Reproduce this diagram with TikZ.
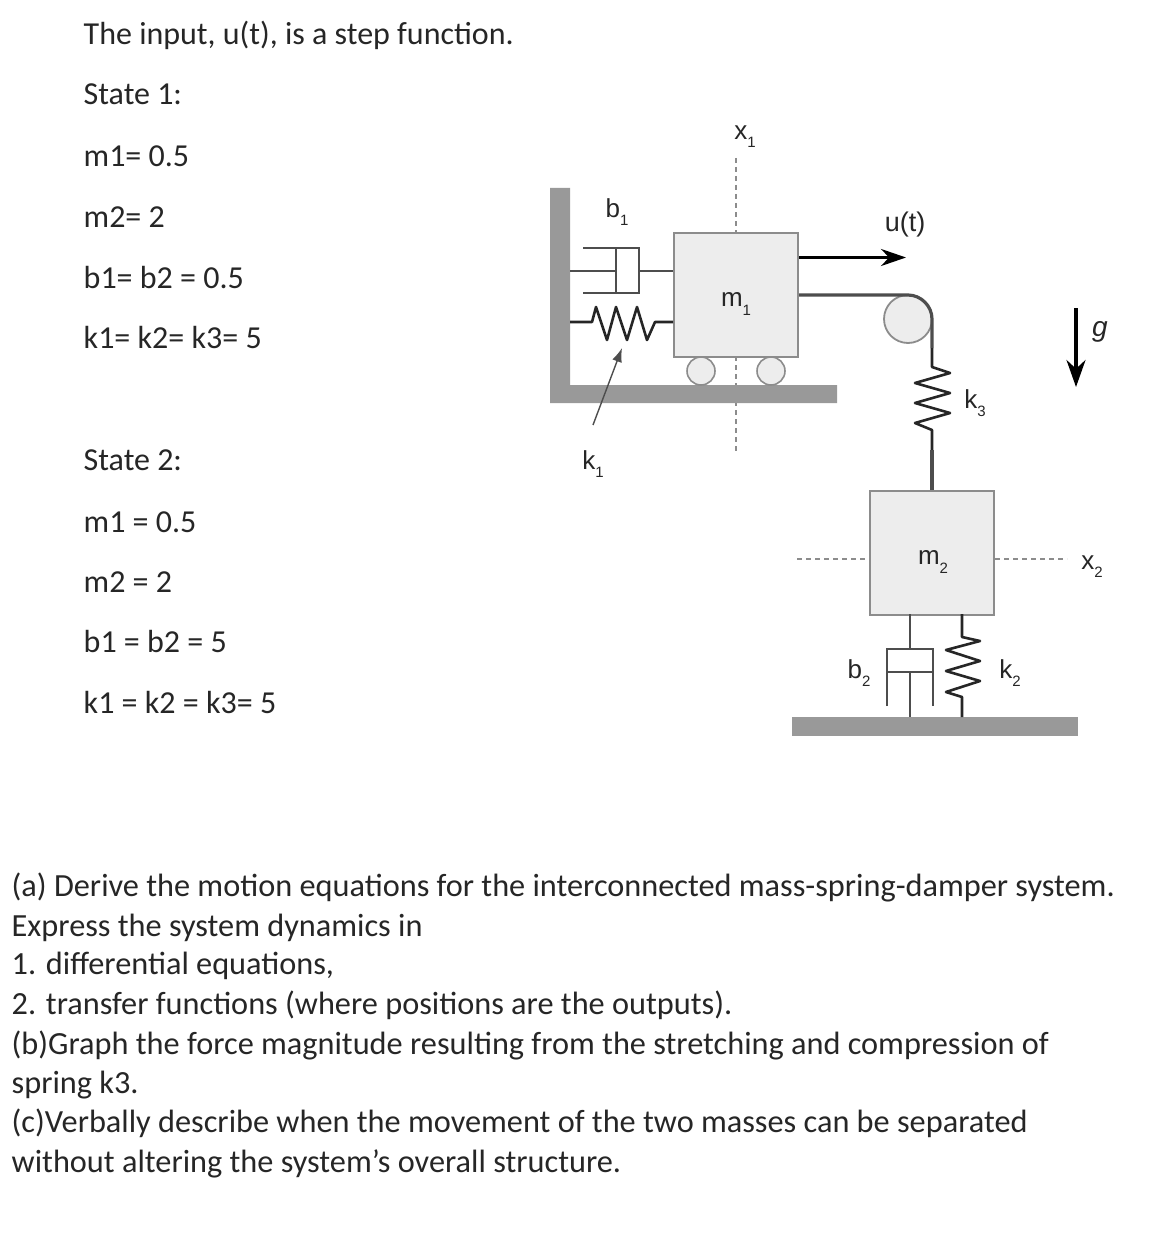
\documentclass[tikz,border=0pt]{standalone}
\usepackage{fontspec}
\setmainfont{Carlito}
\newfontfamily\labfont{Liberation Sans}
\usetikzlibrary{arrows.meta,calc}
\definecolor{ink}{HTML}{262626}
\definecolor{wallc}{HTML}{999999}
\definecolor{massc}{HTML}{EDEDED}
\definecolor{edgec}{HTML}{8C8C8C}
\definecolor{linec}{HTML}{4D4D4D}
\newcommand{\lbl}[2]{#1\raisebox{-0.6ex}{\fontsize{15}{15}\selectfont #2}}
\tikzset{
  body/.style={anchor=base west,inner sep=0pt,text=ink,font=\fontsize{32}{32}\selectfont},
  para/.style={anchor=base west,inner sep=0pt,text=ink,font=\fontsize{32.3}{32.3}\selectfont},
  wallshape/.style={fill=wallc,draw=none},
  mass/.style={draw=edgec,fill=massc,line width=2pt,minimum width=124pt,minimum height=124pt,inner sep=0pt},
  wheel/.style={circle,draw=edgec,fill=massc,line width=1.6pt,minimum size=28pt,inner sep=0pt},
  thin rod/.style={draw=linec,line width=2pt},
  rope/.style={draw=linec,line width=3.2pt},
  springline/.style={draw=black!85,line width=2.6pt,line join=round},
  guide/.style={draw=edgec,line width=1.4pt,dash pattern=on 5pt off 4pt},
  lab/.style={inner sep=0pt,text=ink,font=\labfont\fontsize{26}{26}\selectfont},
}
\begin{document}
\begin{tikzpicture}[x=1pt,y=-1pt]
\useasboundingbox (0,0) rectangle (1155,1252);
\fill[white] (0,0) rectangle (1155,1252);

% left column text
\node[body] (t1) at (83.5,45) {The input, u(t), is a step function.};
\node[body] (t2) at (83.5,105) {State 1:};
\node[body] (t3) at (83.5,167) {m1= 0.5};
\node[body] (t4) at (83.5,227) {m2= 2};
\node[body] (t5) at (83.5,288) {b1= b2 = 0.5};
\node[body] (t6) at (83.5,348) {k1= k2= k3= 5};
\node[body] (t7) at (83.5,470) {State 2:};
\node[body] (t8) at (83.5,532) {m1 = 0.5};
\node[body] (t9) at (83.5,592) {m2 = 2};
\node[body] (t10) at (83.5,652) {b1 = b2 = 5};
\node[body] (t11) at (83.5,713) {k1 = k2 = k3= 5};

% bottom text
\node[para] (p1) at (11.5,896) {(a) Derive the motion equations for the interconnected mass-spring-damper system.};
\node[para] (p2) at (11.5,936) {Express the system dynamics in};
\node[para] (p3) at (11.5,974) {1. differential equations,};
\node[para] (p4) at (11.5,1014) {2. transfer functions (where positions are the outputs).};
\node[para] (p5) at (11.5,1054) {(b)Graph the force magnitude resulting from the stretching and compression of};
\node[para] (p6) at (11.5,1093) {spring k3.};
\node[para] (p7) at (11.5,1132) {(c)Verbally describe when the movement of the two masses can be separated};
\node[para] (p8) at (11.5,1172) {without altering the system’s overall structure.};

% guides behind the masses
\coordinate (x1top) at (736,158);
\coordinate (x1bot) at (736,453);
\draw[guide] (x1top) -- (x1bot);
\coordinate (x2l) at (797,559);
\coordinate (x2r) at (1067,559);
\draw[guide] (x2l) -- (x2r);

% wall and floors
\fill[wallshape] (550,188) -- (570,188) -- (570,385) -- (837,385) -- (837,403) -- (550,403) -- cycle;
\fill[wallshape] (792,717) rectangle (1078,736);

% wheels
\node[wheel] (w1) at (701,371) {};
\node[wheel] (w2) at (771,371) {};

% masses
\node[mass] (m1) at (736,295) {};
\node[mass] (m2) at (931.5,552.5) {};
\node[lab] (m1l) at (736,304) {\lbl{m}{1}};
\node[lab] (m2l) at (933,562) {\lbl{m}{2}};

% damper b1
\coordinate (wa) at (570,271);
\coordinate (pa) at (616,271);
\coordinate (ca) at (639,271);
\draw[thin rod] (wa) -- (pa);
\draw[thin rod] (616,248) -- (616,293);
\draw[thin rod] (583,248) -- (639,248) -- (639,293) -- (583,293);
\draw[thin rod] (ca) -- (ca -| m1.west);

% spring k1
\draw[springline] (570,322) -- (592,322) -- (596,307) -- (607,340) -- (616,307) -- (627,340) -- (637,307) -- (647,340) -- (655,322) -- (m1.west |- 0,322);

% k1 pointer
\coordinate (k1tail) at (593,425);
\coordinate (k1head) at (622,348);
\draw[draw=linec,line width=1.4pt,-{Latex[length=14pt,width=10pt]}] (k1tail) -- (k1head);

% u(t) arrow
\coordinate (ue) at (906,257.5);
\draw[draw=black,line width=3.4pt,-{Stealth[length=25pt,width=17pt]}] (m1.east |- ue) -- (ue);

% pulley and rope
\node[circle,draw=edgec,fill=massc,line width=1.8pt,minimum size=48pt,inner sep=0pt] (pul) at (908,319) {};
\draw[rope] (m1.east |- 0,295) -- (908,295) .. controls (921,295) and (932,306) .. (932,319) -- (932,348);

% spring k3
\draw[springline] (932,348) -- (932,367) -- (950,373) -- (915,383) -- (950,393) -- (915,403) -- (950,413) -- (915,423) -- (932,430) -- (932,450);
\draw[rope] (932,450) -- (m2.north -| 932,0);

% m2 lower elements
\coordinate (d2) at (910,649);
\draw[thin rod] (910,614) -- (d2);
\draw[thin rod] (887,706) -- (887,649) -- (933,649) -- (933,706);
\draw[thin rod] (887,672) -- (933,672);
\draw[thin rod] (910,672) -- (910,717);
\draw[springline] (962,614) -- (962,637) -- (980,641) -- (946,650) -- (980,661) -- (946,671) -- (980,681) -- (946,692) -- (962,697) -- (962,717);

% g arrow
\coordinate (gt) at (1076,308);
\coordinate (gb) at (1076,387);
\draw[draw=black,line width=3.2pt,-{Stealth[length=27pt,width=19pt]}] (gt) -- (gb);
\node[lab,font=\labfont\itshape\fontsize{28}{28}\selectfont] (gl) at (1100,332) {g};

% labels
\node[lab] (x1l) at (745,137) {\lbl{x}{1}};
\node[lab] (b1l) at (617,212) {\lbl{b}{1}};
\node[lab] (k1l) at (593,464) {\lbl{k}{1}};
\node[lab,font=\labfont\fontsize{27}{27}\selectfont] (ul) at (905,225) {u(t)};
\node[lab] (k3l) at (975,403) {\lbl{k}{3}};
\node[lab] (x2l2) at (1092,567) {\lbl{x}{2}};
\node[lab] (b2l) at (859,673) {\lbl{b}{2}};
\node[lab] (k2l) at (1010,673) {\lbl{k}{2}};
\end{tikzpicture}
\end{document}
